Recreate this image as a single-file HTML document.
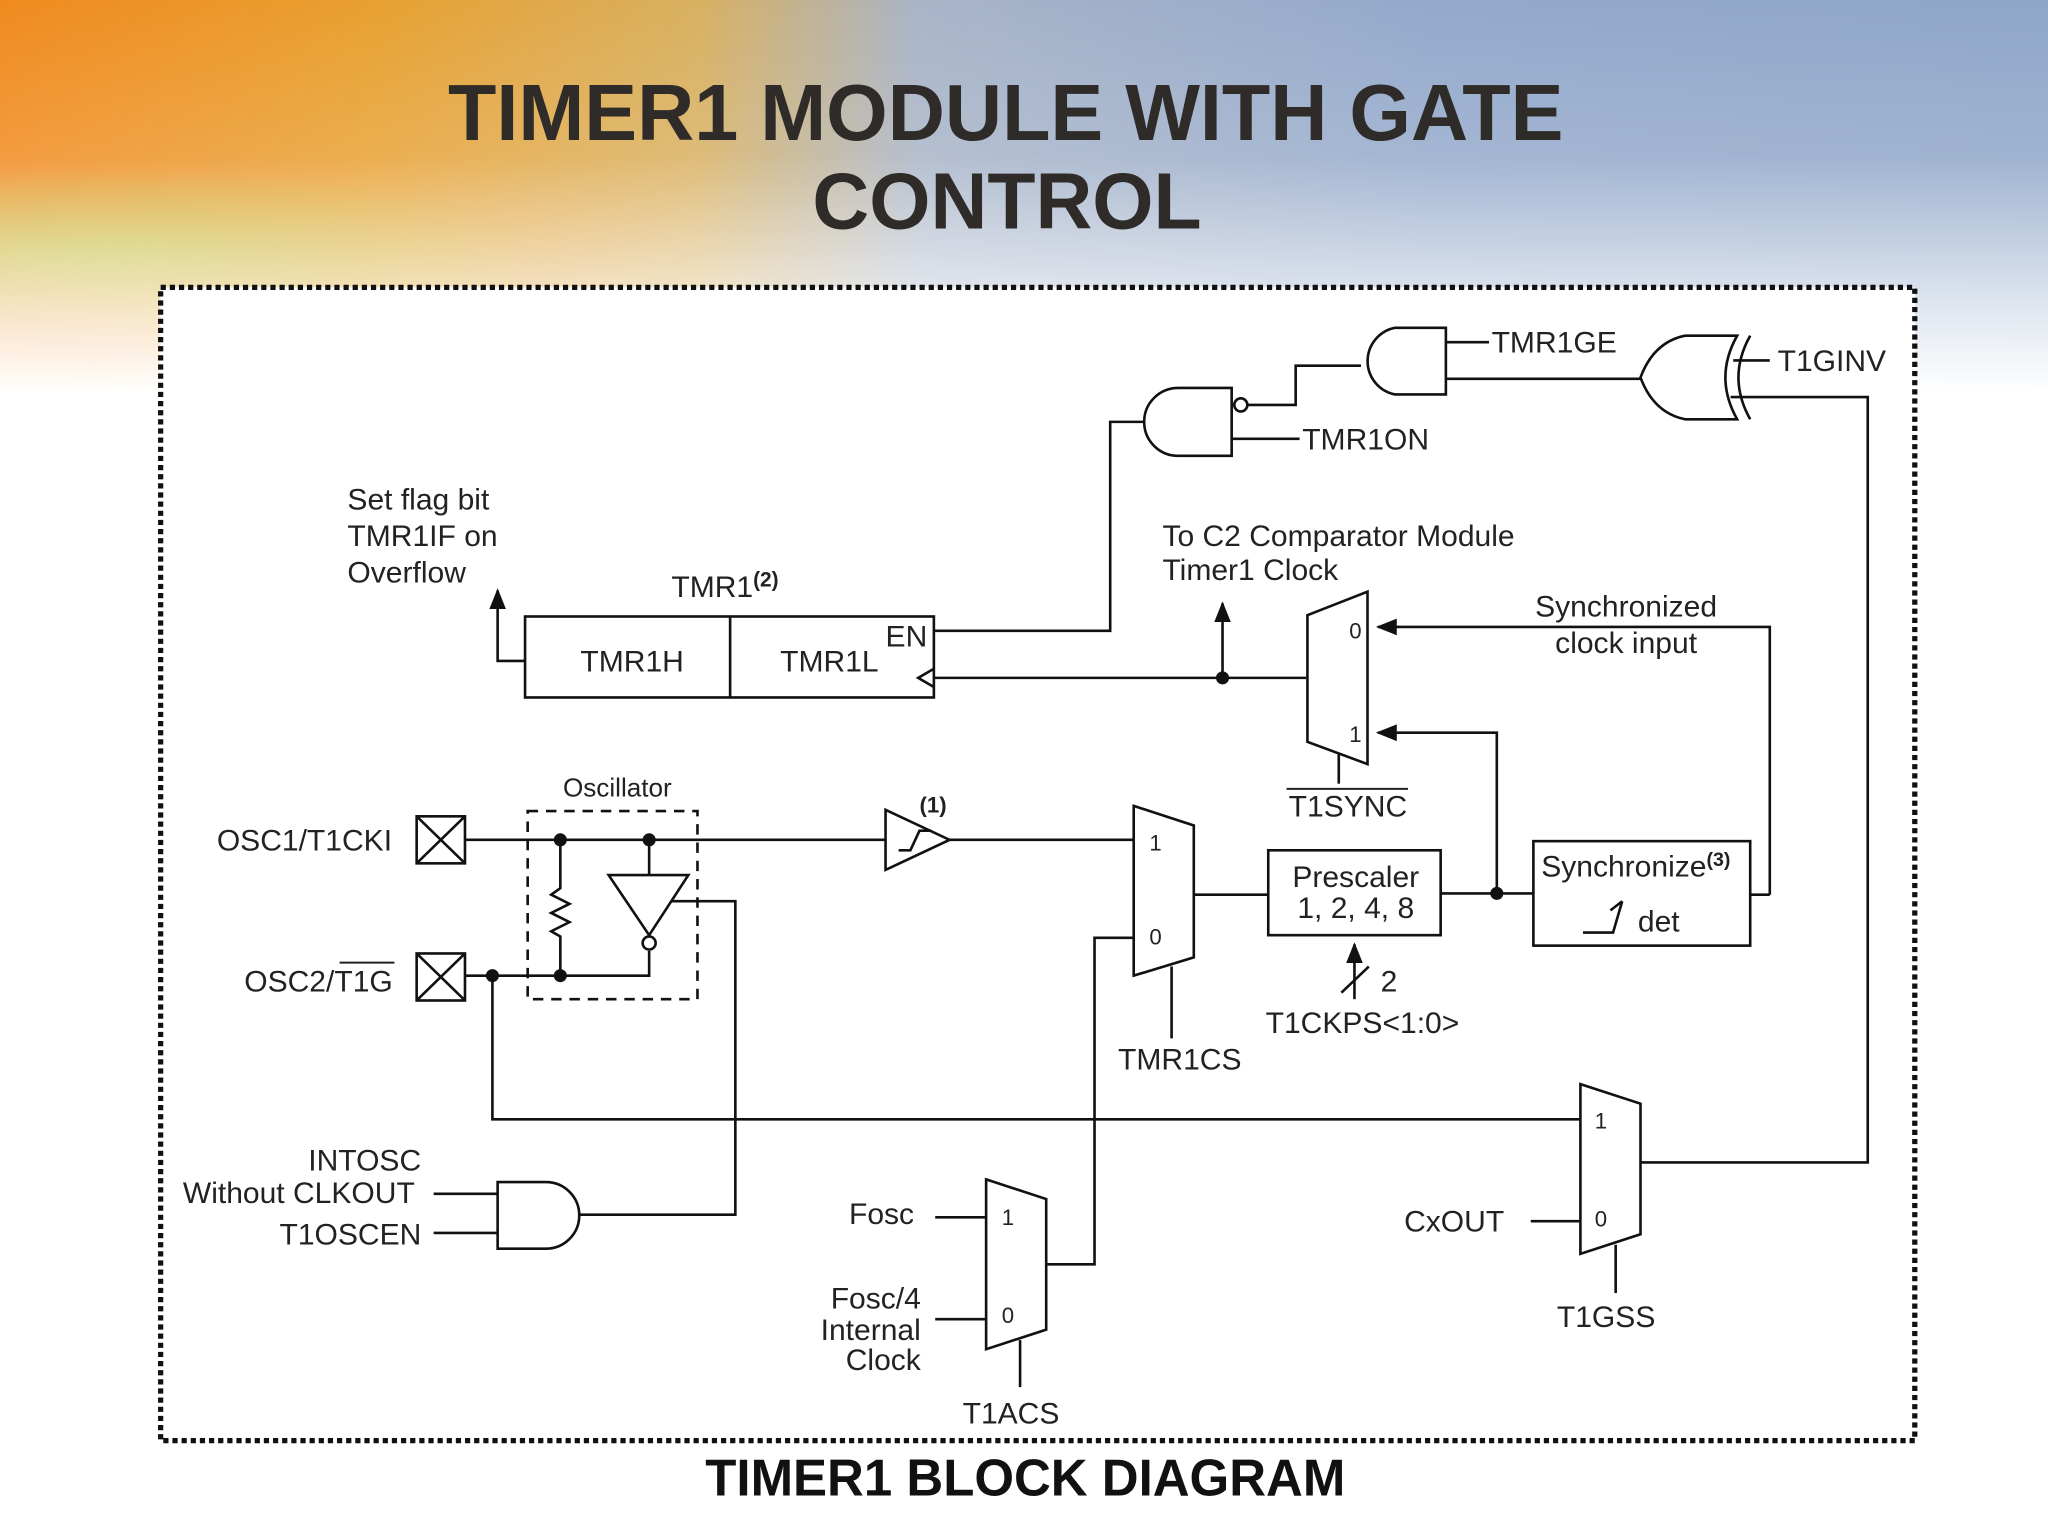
<!DOCTYPE html>
<html><head><meta charset="utf-8"><style>
html,body{margin:0;padding:0;width:2048px;height:1536px;overflow:hidden;background:#fff}
svg{display:block}
text{font-family:"Liberation Sans",Arial,sans-serif;fill:#222}
</style></head><body>
<svg width="2048" height="1536" viewBox="0 0 1568 1176" preserveAspectRatio="none" xmlns="http://www.w3.org/2000/svg">
<defs>
<linearGradient id="bgH" x1="0" y1="0" x2="1" y2="0">
<stop offset="0" stop-color="#f08a1e"/><stop offset="0.18" stop-color="#e8a030"/><stop offset="0.34" stop-color="#d8b060"/><stop offset="0.45" stop-color="#a8b4c8"/><stop offset="0.7" stop-color="#93a9cb"/><stop offset="1" stop-color="#8ea6c8"/>
</linearGradient>
<linearGradient id="fade" x1="0" y1="0" x2="0" y2="1">
<stop offset="0" stop-color="#fff" stop-opacity="0"/><stop offset="0.4" stop-color="#fff" stop-opacity="0.15"/><stop offset="0.8" stop-color="#fff" stop-opacity="0.75"/><stop offset="1" stop-color="#fff" stop-opacity="1"/>
</linearGradient>
<radialGradient id="green" cx="0.05" cy="0.65" r="0.22">
<stop offset="0" stop-color="#b8c030" stop-opacity="0.9"/><stop offset="1" stop-color="#b8c030" stop-opacity="0"/>
</radialGradient>
<marker id="ar" viewBox="0 0 10 10" refX="9" refY="5" markerWidth="8" markerHeight="8" orient="auto-start-reverse"><path d="M0,1 L10,5 L0,9 z" fill="#111"/></marker>
</defs>
<rect x="0" y="0" width="1568" height="300" fill="url(#bgH)"/>
<rect x="0" y="0" width="1568" height="300" fill="url(#green)"/>
<rect x="0" y="0" width="1568" height="301" fill="url(#fade)"/>
<text x="770" y="107" font-size="61" font-weight="bold" text-anchor="middle" textLength="854" lengthAdjust="spacingAndGlyphs" style="fill:#2e2b28">TIMER1 MODULE WITH GATE</text>
<text x="771" y="175" font-size="61" font-weight="bold" text-anchor="middle" textLength="298" lengthAdjust="spacingAndGlyphs" style="fill:#2e2b28">CONTROL</text>
<rect x="123" y="220" width="1343" height="883" fill="#fff" stroke="#111" stroke-width="4" stroke-dasharray="4 3"/>
<text x="785" y="1145" font-size="40" font-weight="bold" text-anchor="middle" textLength="490" lengthAdjust="spacingAndGlyphs" style="fill:#111">TIMER1 BLOCK DIAGRAM</text>

<g stroke="#111" stroke-width="2" fill="none">
<path d="M1107,251 L1068,251 A26,26 0 0 0 1068,302 L1107,302 Z"/>
<line x1="1107" y1="262" x2="1140" y2="262"/>
<line x1="1107" y1="290" x2="1256" y2="290"/>
<polyline points="1042,280 992,280 992,310 955,310"/>
<circle cx="950" cy="310" r="5"/>
<path d="M943,297 L902,297 A26,26 0 0 0 902,349 L943,349 Z"/>
<line x1="943" y1="336" x2="995" y2="336"/>
<polyline points="876,323 850,323 850,483 715,483"/>
<path d="M1330,257 L1290,257 Q1266,262 1256,289 Q1266,316 1290,321 L1330,321 Q1312,289 1330,257 Z"/>
<path d="M1340,257 Q1322,289 1340,321"/>
<line x1="1327" y1="276" x2="1355" y2="276"/>
<polyline points="1325,304 1430,304 1430,890 1256,890"/>
<rect x="402" y="472" width="313" height="62"/>
<line x1="559" y1="472" x2="559" y2="534"/>
<polyline points="715,512 703,519 715,526"/>
<polyline points="402,506 381,506 381,452" marker-end="url(#ar)"/>
<line x1="715" y1="519" x2="1000" y2="519"/>
<line x1="936" y1="519" x2="936" y2="462" marker-end="url(#ar)"/>
<polygon points="1001,471 1047,453 1047,585 1001,568"/>
<line x1="1025" y1="577" x2="1025" y2="600"/>
<polyline points="1355,685 1355,480 1055,480" marker-end="url(#ar)"/>
<line x1="1340" y1="685" x2="1355" y2="685"/>
<polyline points="1146,684 1146,561 1055,561" marker-end="url(#ar)"/>
<rect x="971" y="651" width="132" height="65"/>
<line x1="1103" y1="684" x2="1174" y2="684"/>
<line x1="1037" y1="765" x2="1037" y2="723" marker-end="url(#ar)"/>
<line x1="1027" y1="760" x2="1048" y2="740"/>
<rect x="1174" y="644" width="166" height="80"/>
<polyline points="1212,714 1235,714 1242,690" />
<line x1="1242" y1="690" x2="1233" y2="697"/>
<polygon points="868,617 914,632 914,733 868,747"/>
<line x1="914" y1="685" x2="971" y2="685"/>
<line x1="897" y1="740" x2="897" y2="795"/>
<line x1="727" y1="643" x2="868" y2="643"/>
<polyline points="868,718 838,718 838,968 801,968"/>
<polygon points="678,620 678,666 727,643"/>
<polyline points="688,651 697,651 704,636 713,636"/>
<rect x="319" y="625" width="37" height="36"/>
<line x1="319" y1="625" x2="356" y2="661"/><line x1="356" y1="625" x2="319" y2="661"/>
<rect x="319" y="730" width="37" height="36"/>
<line x1="319" y1="730" x2="356" y2="766"/><line x1="356" y1="730" x2="319" y2="766"/>
<line x1="356" y1="643" x2="678" y2="643"/>
<polyline points="356,747 497,747 497,728"/>
<rect x="404" y="621" width="130" height="144" stroke-dasharray="8 6"/>
<polyline points="429,643 429,680 422,685 436,692 422,699 436,706 422,713 429,717 429,747"/>
<line x1="497" y1="643" x2="497" y2="670"/>
<polygon points="466,670 527,670 497,716"/>
<circle cx="497" cy="722" r="5"/>
<polyline points="514,690 563,690 563,930 443,930"/>
<polyline points="377,747 377,857 1210,857"/>
<path d="M381,905 L418,905 A25.5,25.5 0 0 1 418,956 L381,956 Z"/>
<line x1="332" y1="914" x2="381" y2="914"/>
<line x1="332" y1="944" x2="381" y2="944"/>
<polygon points="755,903 801,918 801,1018 755,1033"/>
<line x1="716" y1="932" x2="755" y2="932"/>
<line x1="716" y1="1010" x2="755" y2="1010"/>
<line x1="781" y1="1026" x2="781" y2="1062"/>
<polygon points="1210,830 1256,845 1256,945 1210,960"/>
<line x1="1172" y1="935" x2="1210" y2="935"/>
<line x1="1237" y1="953" x2="1237" y2="990"/>
</g>
<g fill="#111">
<circle cx="936" cy="519" r="5"/><circle cx="1146" cy="684" r="5"/>
<circle cx="429" cy="643" r="5"/><circle cx="497" cy="643" r="5"/>
<circle cx="429" cy="747" r="5"/><circle cx="377" cy="747" r="5"/>
</g>
<g font-size="23">
<text x="1142" y="270">TMR1GE</text>
<text x="1361" y="284">T1GINV</text>
<text x="997" y="344">TMR1ON</text>
<text x="266" y="390">Set flag bit</text>
<text x="266" y="418">TMR1IF on</text>
<text x="266" y="446">Overflow</text>
<text x="514" y="457">TMR1<tspan font-size="16" dy="-8" font-weight="bold">(2)</tspan></text>
<text x="484" y="514" text-anchor="middle">TMR1H</text>
<text x="635" y="514" text-anchor="middle">TMR1L</text>
<text x="678" y="495">EN</text>
<text x="890" y="418">To C2 Comparator Module</text>
<text x="890" y="444">Timer1 Clock</text>
<text x="1245" y="472" text-anchor="middle">Synchronized</text>
<text x="1245" y="500" text-anchor="middle">clock input</text>
<text x="1032" y="625" text-anchor="middle">T1SYNC</text>
<text x="1038" y="679" text-anchor="middle">Prescaler</text>
<text x="1038" y="703" text-anchor="middle">1, 2, 4, 8</text>
<text x="1180" y="671">Synchronize<tspan font-size="15" dy="-8" font-weight="bold">(3)</tspan></text>
<text x="1254" y="713">det</text>
<text x="1057" y="759">2</text>
<text x="969" y="791">T1CKPS&lt;1:0&gt;</text>
<text x="856" y="819">TMR1CS</text>
<text x="166" y="651">OSC1/T1CKI</text>
<text x="187" y="759">OSC2/T1G</text>
<text x="236" y="896">INTOSC</text>
<text x="140" y="921">Without CLKOUT</text>
<text x="214" y="953">T1OSCEN</text>
<text x="650" y="937">Fosc</text>
<text x="705" y="1002" text-anchor="end">Fosc/4</text>
<text x="705" y="1026" text-anchor="end">Internal</text>
<text x="705" y="1049" text-anchor="end">Clock</text>
<text x="737" y="1090">T1ACS</text>
<text x="1075" y="943">CxOUT</text>
<text x="1192" y="1016">T1GSS</text>
</g>
<line x1="985" y1="604" x2="1078" y2="604" stroke="#222" stroke-width="1.5"/>
<line x1="260" y1="737" x2="302" y2="737" stroke="#222" stroke-width="1.5"/>
<g font-size="20">
<text x="431" y="610">Oscillator</text>
<text x="704" y="622" font-weight="bold" font-size="17">(1)</text>
</g>
<g font-size="17" font-family="Liberation Mono">
<text x="1033" y="489">0</text><text x="1033" y="568">1</text>
<text x="880" y="651">1</text><text x="880" y="723">0</text>
<text x="767" y="938">1</text><text x="767" y="1013">0</text>
<text x="1221" y="864">1</text><text x="1221" y="939">0</text>
</g>
</svg>
</body></html>
